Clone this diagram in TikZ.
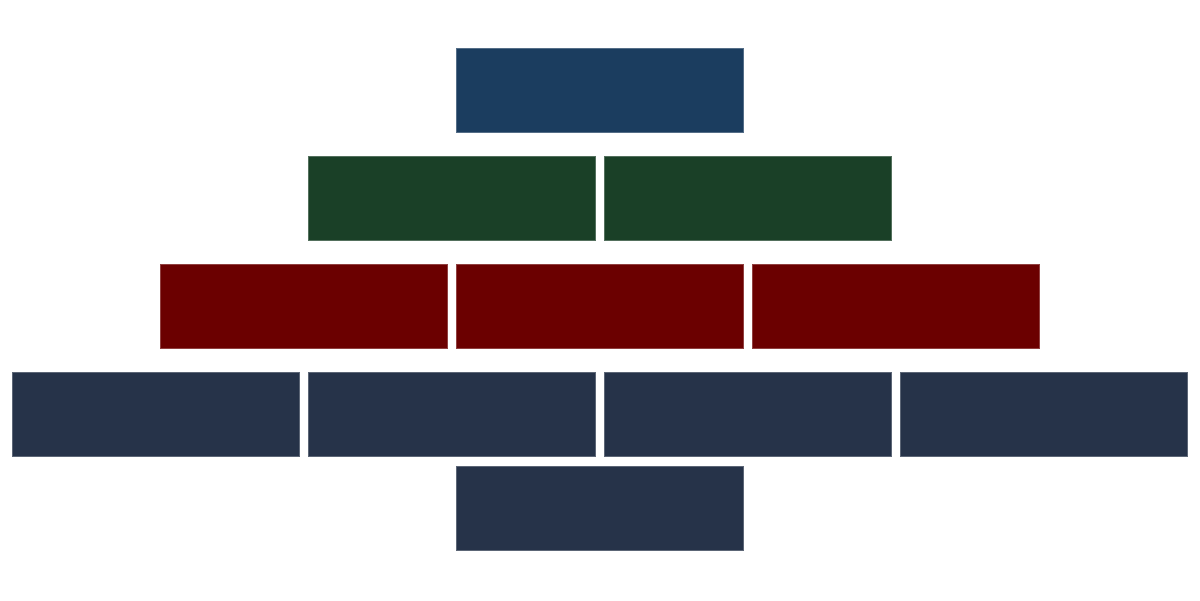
\documentclass[tikz,border=0pt]{standalone}
\usepackage{tikz}

\definecolor{topblue}{HTML}{1B3D5F}
\definecolor{leafgreen}{HTML}{1A4027}
\definecolor{darkred}{HTML}{6B0000}
\definecolor{slatenavy}{HTML}{263349}

\begin{document}
\begin{tikzpicture}[
    block/.style={rectangle, minimum width=5.74cm, minimum height=1.68cm,
        inner sep=0pt, outer sep=0pt, line width=0.4pt},
    tier1/.style={block, fill=topblue, draw=topblue!75!white},
    tier2/.style={block, fill=leafgreen, draw=leafgreen!75!white},
    tier3/.style={block, fill=darkred, draw=darkred!75!white},
    tier4/.style={block, fill=slatenavy, draw=slatenavy!75!white}
]
    \useasboundingbox (0,0) rectangle (24,12);
    % top
    \node[tier1] (apex) at (12,10.19) {};
    % second row
    \node[tier2] (midL) at (9.04,8.03) {};
    \node[tier2] (midR) at (14.96,8.03) {};
    % third row
    \node[tier3] (redL) at (6.08,5.87) {};
    \node[tier3] (redC) at (12,5.87) {};
    \node[tier3] (redR) at (17.92,5.87) {};
    % base row
    \node[tier4] (baseA) at (3.12,3.71) {};
    \node[tier4] (baseB) at (9.04,3.71) {};
    \node[tier4] (baseC) at (14.96,3.71) {};
    \node[tier4] (baseD) at (20.88,3.71) {};
    % foot
    \node[tier4] (foot) at (12,1.83) {};
\end{tikzpicture}
\end{document}
